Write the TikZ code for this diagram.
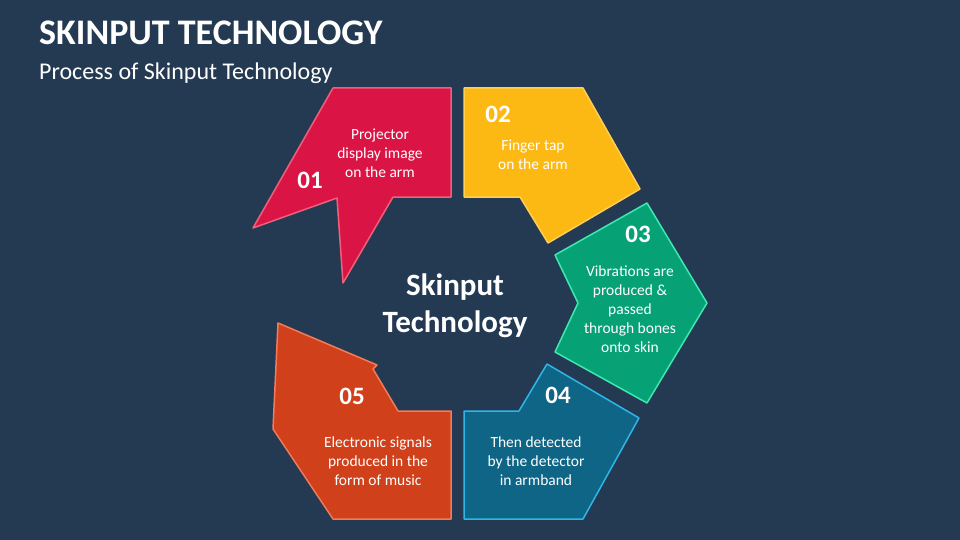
\documentclass[tikz,border=0pt]{standalone}
\usepackage{fontspec}
\setmainfont{Carlito}
\definecolor{bg}{HTML}{243A53}
\definecolor{redf}{HTML}{DA1545}
\definecolor{redl}{HTML}{F0607A}
\definecolor{yelf}{HTML}{FDB913}
\definecolor{yell}{HTML}{FFCF55}
\definecolor{grnf}{HTML}{06A276}
\definecolor{grnl}{HTML}{3EE8B0}
\definecolor{bluf}{HTML}{0F6585}
\definecolor{blul}{HTML}{2EB6E8}
\definecolor{orgf}{HTML}{D0401A}
\definecolor{orgl}{HTML}{F07C5C}
\tikzset{
  shp/.style={line width=1.5pt, line join=round},
  num/.style={text=white, font=\fontsize{25}{30}\selectfont\bfseries, anchor=base, inner sep=0pt},
  body/.style={text=white, font=\fontsize{15.5}{19}\selectfont, align=center, anchor=base, inner sep=0pt},
}
\begin{document}
\begin{tikzpicture}[x=1pt,y=-1pt]
\fill[bg] (0,0) rectangle (960,540);
\useasboundingbox (0,0) rectangle (960,540);

\node[text=white, font=\fontsize{36}{40}\selectfont\bfseries, anchor=base west, inner sep=0pt] (title) at (39,45) {SKINPUT TECHNOLOGY};
\node[text=white, font=\fontsize{24}{28}\selectfont, anchor=base west, inner sep=0pt] (subtitle) at (39,80) {Process of Skinput Technology};

% 01 red
\filldraw[shp, fill=redf, draw=redl] (333,88) -- (451,88) -- (451,197) -- (393,197) -- (343,283) -- (337,198) -- (253,228) -- cycle;
% 02 yellow
\filldraw[shp, fill=yelf, draw=yell] (464,88) -- (583,88) -- (640,189) -- (548,243) -- (520,197) -- (464,197) -- cycle;
% 03 green
\filldraw[shp, fill=grnf, draw=grnl] (647,203) -- (707,303) -- (647,403) -- (555,352) -- (578,303) -- (555,255) -- cycle;
% 04 blue
\filldraw[shp, fill=bluf, draw=blul] (547,364) -- (639,418) -- (583,519) -- (464,519) -- (464,411) -- (519,411) -- cycle;
% 05 orange
\filldraw[shp, fill=orgf, draw=orgl] (278,323) -- (377,365) -- (373,369) -- (398,411) -- (451,411) -- (451,519) -- (333,519) -- (273,429) -- cycle;

\node[text=white, font=\fontsize{31}{37}\selectfont\bfseries, align=center, anchor=base, inner sep=0pt] (center) at (455,332) {Skinput\\Technology};

\node[num] (n1) at (310,189) {01};
\node[num] (n2) at (498,123) {02};
\node[num] (n3) at (638,242) {03};
\node[num] (n4) at (558,403) {04};
\node[num] (n5) at (352,404) {05};

\node[body] (t1) at (380,178) {Projector\\display image\\on the arm};
\node[body] (t2) at (533,170) {Finger tap\\on the arm};
\node[body] (t3) at (630,352) {Vibrations are\\produced \&\\passed\\through bones\\onto skin};
\node[body] (t4) at (536,485) {Then detected\\by the detector\\in armband};
\node[body] (t5) at (378,485) {Electronic signals\\produced in the\\form of music};
\end{tikzpicture}
\end{document}
